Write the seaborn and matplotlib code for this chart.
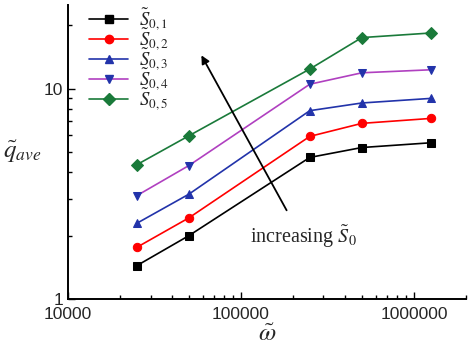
import matplotlib
matplotlib.use("Agg")
import matplotlib.pyplot as plt
import matplotlib.ticker as mticker
import seaborn as sns
import pandas as pd
from matplotlib.lines import Line2D

omega = [25000, 50000, 250000, 500000, 1250000]
s01 = [1.44, 2.00, 4.71, 5.25, 5.53]
s02 = [1.76, 2.43, 5.93, 6.84, 7.22]
s03 = [2.29, 3.15, 7.86, 8.55, 8.99]
s04 = [3.10, 4.31, 10.5, 11.9, 12.3]
s05 = [4.35, 5.97, 12.4, 17.5, 18.4]
labels = [r"$\tilde{S}_{0,1}$", r"$\tilde{S}_{0,2}$", r"$\tilde{S}_{0,3}$",
          r"$\tilde{S}_{0,4}$", r"$\tilde{S}_{0,5}$"]
series = [s01, s02, s03, s04, s05]
x_ticks = [10000, 100000, 1000000]
y_ticks = [1, 10]

rows = []
for lab, vals in zip(labels, series):
    for xv, yv in zip(omega, vals):
        rows.append({"omega": xv, "q": yv, "series": lab})
df = pd.DataFrame(rows)

sns.set_style("ticks")
plt.rcParams["font.family"] = ["Liberation Sans", "DejaVu Sans"]
plt.rcParams["mathtext.fontset"] = "stix"

line_colors = ["#000000", "#ff0000", "#2233aa", "#b040c0", "#1a7a3a"]
marker_colors = ["#000000", "#ff0000", "#2233aa", "#2233aa", "#1a7a3a"]
markers = ["s", "o", "^", "v", "D"]

fig = plt.figure(figsize=(4.74, 3.46), dpi=100)
ax = fig.add_axes([0.1435, 0.136, 0.8395, 0.8495])

sns.lineplot(data=df, x="omega", y="q", hue="series", style="series",
             palette=dict(zip(labels, line_colors)),
             markers=dict(zip(labels, markers)), dashes=False,
             markersize=6, linewidth=1.2, ax=ax, legend=False)

for line, mc in zip(ax.get_lines(), marker_colors):
    line.set_markerfacecolor(mc)
    line.set_markeredgecolor(mc)

ax.set_xscale("log")
ax.set_yscale("log")
ax.set_xlim(10000, 2000000)
ax.set_ylim(1, 25)

ax.xaxis.set_major_locator(mticker.FixedLocator(x_ticks))
ax.yaxis.set_major_locator(mticker.FixedLocator(y_ticks))
ax.xaxis.set_minor_locator(mticker.LogLocator(base=10, subs=range(2, 10)))
ax.yaxis.set_minor_locator(mticker.LogLocator(base=10, subs=range(2, 10)))
fmt = mticker.FuncFormatter(lambda v, p: f"{int(round(v))}")
ax.xaxis.set_major_formatter(fmt)
ax.yaxis.set_major_formatter(fmt)
ax.xaxis.set_minor_formatter(mticker.NullFormatter())
ax.yaxis.set_minor_formatter(mticker.NullFormatter())
ax.tick_params(which="both", direction="in", labelsize=12.5, color="black",
               width=1.0)
ax.tick_params(which="major", length=5)
ax.tick_params(which="minor", length=3)
ax.tick_params(axis="x", pad=6)
sns.despine(ax=ax)
for sp in ["left", "bottom"]:
    ax.spines[sp].set_linewidth(1.4)
    ax.spines[sp].set_color("black")

ax.set_xlabel(r"$\tilde{\omega}$", fontsize=18, labelpad=0)
ax.set_ylabel(r"$\tilde{q}_{ave}$", fontsize=18, rotation=0, va="center")
ax.yaxis.set_label_coords(-0.115, 0.50)

handles = [Line2D([], [], color=lc, marker=m, markerfacecolor=mc,
                  markeredgecolor=mc, markersize=6, linewidth=1.2)
           for lc, mc, m in zip(line_colors, marker_colors, markers)]
ax.legend(handles, labels, loc="upper left", bbox_to_anchor=(0.035, 1.02),
          frameon=False, fontsize=13.5, handlelength=2.05, labelspacing=-0.3,
          handletextpad=0.6, borderaxespad=0.0)

ax.annotate("", xy=(58000, 14.8), xytext=(187000, 2.57),
            arrowprops=dict(arrowstyle="-|>", color="black", lw=1.3,
                            mutation_scale=12))
ax.text(113000, 1.97, r"increasing $\tilde{S}_0$", fontsize=14.5,
        va="center", ha="left", fontname="Liberation Serif")

fig.savefig("out.png", dpi=100, facecolor="white")
